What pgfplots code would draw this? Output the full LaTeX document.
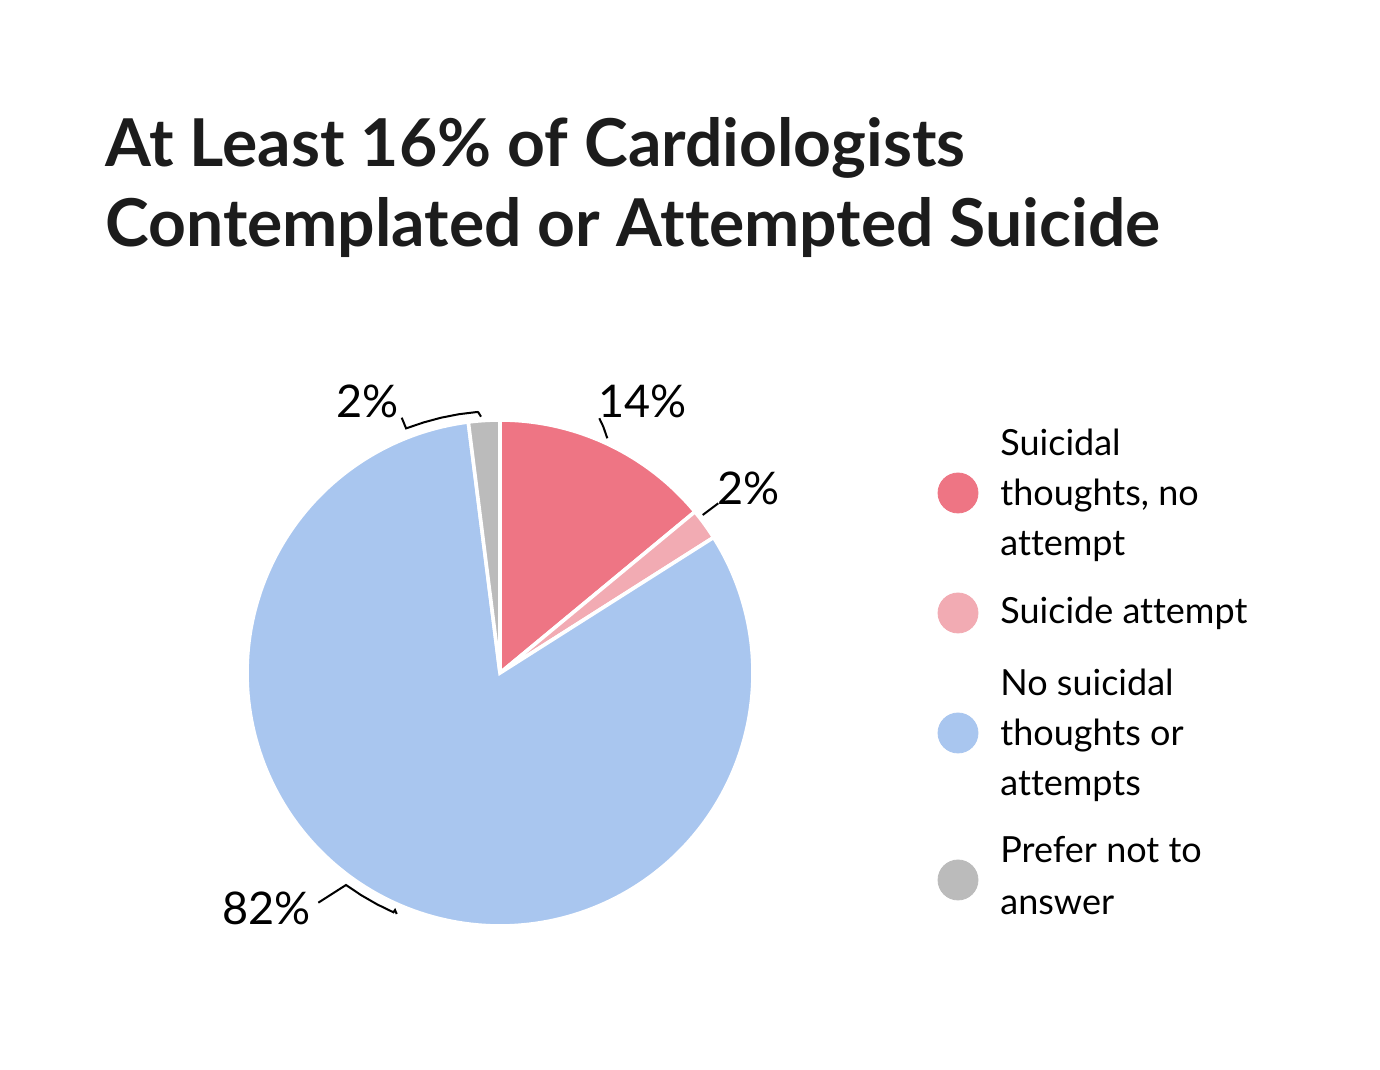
\documentclass[border=0pt]{standalone}
\usepackage{fontspec}
\setmainfont[Ligatures=NoCommon]{Lato}
\newfontfamily\titlefont[Ligatures=NoCommon]{Lato Bold}
\usepackage{pgfplots}
\pgfplotsset{compat=1.18}
\definecolor{cRed}{HTML}{EE7584}
\definecolor{cPink}{HTML}{F2ABB3}
\definecolor{cBlue}{HTML}{A9C6EF}
\definecolor{cGray}{HTML}{BBBBBB}
\definecolor{cTitle}{HTML}{1C1C1C}
% values (percent)
\def\vA{14}\def\vB{2}\def\vC{82}\def\vD{2}
\begin{document}
\begin{tikzpicture}
\path[use as bounding box, fill=white] (0,0) rectangle (690bp,535bp);
\pgfmathsetmacro\aS{90}
\pgfmathsetmacro\aA{\aS-3.6*\vA}
\pgfmathsetmacro\aB{\aA-3.6*\vB}
\pgfmathsetmacro\aC{\aB-3.6*\vC}
\pgfmathsetmacro\aD{\aC-3.6*\vD}
\begin{axis}[at={(0,0)}, anchor=south west, scale only axis,
  width=690bp, height=535bp, xmin=0, xmax=1380, ymin=0, ymax=1070,
  hide axis, clip=false]
% pie wedges
\addplot[fill=cRed, draw=white, line width=1.8bp, domain=\aA:\aS, samples=60, variable=\t]
  ({500+253*cos(\t)},{397+253*sin(\t)}) -- (axis cs:500,397) -- cycle;
\addplot[fill=cPink, draw=white, line width=1.8bp, domain=\aB:\aA, samples=20, variable=\t]
  ({500+253*cos(\t)},{397+253*sin(\t)}) -- (axis cs:500,397) -- cycle;
\addplot[fill=cBlue, draw=white, line width=1.8bp, domain=\aC:\aB, samples=200, variable=\t]
  ({500+253*cos(\t)},{397+253*sin(\t)}) -- (axis cs:500,397) -- cycle;
\addplot[fill=cGray, draw=white, line width=1.8bp, domain=\aD:\aC, samples=20, variable=\t]
  ({500+253*cos(\t)},{397+253*sin(\t)}) -- (axis cs:500,397) -- cycle;
% leader lines
\addplot[black, line width=1bp] coordinates {(599.3,651.7) (603.3,643.3) (607.3,631.7)};
\addplot[black, line width=1bp] coordinates {(702.7,555) (718.3,566.7)};
\addplot[black, line width=1bp] coordinates {(401.7,652.3) (406.1,641.6) (423.4,647.5) (441.1,652.3) (459.0,655.8) (477.2,658) (478.3,657.7) (481,653.3)};
\addplot[black, line width=1bp] coordinates {(318.3,167.3) (346,185) (361.2,174.8) (377,165.7) (393.4,157.7) (395,160) (396.7,156)};
% labels
\node[anchor=base west, inner sep=0, font=\fontsize{22.5bp}{26bp}\selectfont] at (axis cs:598,652) {14\%};
\node[anchor=base west, inner sep=0, font=\fontsize{22.5bp}{26bp}\selectfont] at (axis cs:717,565) {2\%};
\node[anchor=base west, inner sep=0, font=\fontsize{22.5bp}{26bp}\selectfont] at (axis cs:336,652.3) {2\%};
\node[anchor=base west, inner sep=0, font=\fontsize{22.5bp}{26bp}\selectfont] at (axis cs:222,145) {82\%};
% title
\node[anchor=base west, inner sep=0, text=cTitle, font=\titlefont\fontsize{33bp}{36bp}\selectfont] at (axis cs:105,903) {At Least 16\% of Cardiologists};
\node[anchor=base west, inner sep=0, text=cTitle, font=\titlefont\fontsize{33bp}{36bp}\selectfont] at (axis cs:105,823) {Contemplated or Attempted Suicide};
% legend markers
\addplot[only marks, mark=*, mark size=10bp, color=cRed] coordinates {(958,577)};
\addplot[only marks, mark=*, mark size=10bp, color=cPink] coordinates {(958,457)};
\addplot[only marks, mark=*, mark size=10bp, color=cBlue] coordinates {(958,337)};
\addplot[only marks, mark=*, mark size=10bp, color=cGray] coordinates {(958,190)};
% legend text
\tikzset{lg/.style={anchor=base west, inner sep=0, font=\fontsize{18bp}{20bp}\selectfont}}
\node[lg] at (axis cs:1000,614) {Suicidal};
\node[lg] at (axis cs:1000,564) {thoughts, no};
\node[lg] at (axis cs:1000,514) {attempt};
\node[lg] at (axis cs:1000,446) {Suicide attempt};
\node[lg] at (axis cs:1000,374) {No suicidal};
\node[lg] at (axis cs:1000,324) {thoughts or};
\node[lg] at (axis cs:1000,274) {attempts};
\node[lg] at (axis cs:1000,207) {Prefer not to};
\node[lg] at (axis cs:1000,155) {answer};
\end{axis}
\end{tikzpicture}
\end{document}
